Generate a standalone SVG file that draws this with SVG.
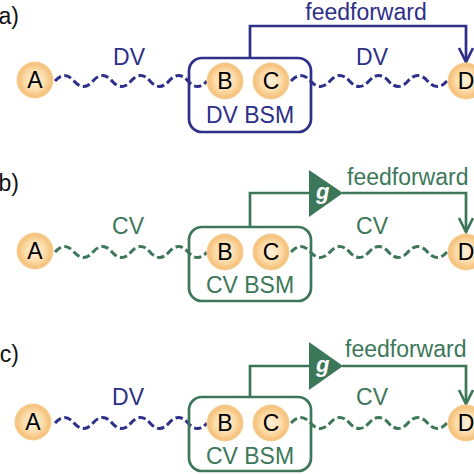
<svg xmlns="http://www.w3.org/2000/svg" xmlns:xlink="http://www.w3.org/1999/xlink" width="474" height="474" viewBox="0 0 474 474">
<style>
text{font-family:"Liberation Sans",Arial,sans-serif;}
.lbl{font-size:23px;fill:#111;}
.node{font-size:23px;fill:#000;text-anchor:middle;}
.navy{fill:#2d2f88;}
.green{fill:#3d775a;}
.wn{fill:none;stroke:#2d2f88;stroke-width:3;stroke-dasharray:7.5 3.5;}
.wg{fill:none;stroke:#3d775a;stroke-width:3;stroke-dasharray:7.5 3.5;}
.bn{fill:none;stroke:#2d2f88;stroke-width:2.7;}
.bg{fill:none;stroke:#3d775a;stroke-width:2.7;}
.mid{text-anchor:middle;font-size:23px;}
.g{font-size:22px;font-weight:bold;font-style:italic;fill:#fff;}
</style>
<defs>
<radialGradient id="orb" cx="0.5" cy="0.5" r="0.5">
<stop offset="0" stop-color="#fff2dc"/>
<stop offset="0.55" stop-color="#fcdcaa"/>
<stop offset="0.88" stop-color="#f5c27c"/>
<stop offset="1" stop-color="#f7cf96"/>
</radialGradient>
<marker id="arrN" markerUnits="userSpaceOnUse" markerWidth="20" markerHeight="20" viewBox="-16 -10 20 20" refX="0" refY="0" orient="auto">
<path d="M-14,-7 L0,0 L-14,7" fill="none" stroke="#2d2f88" stroke-width="2.7"/>
</marker>
<marker id="arrG" markerUnits="userSpaceOnUse" markerWidth="20" markerHeight="20" viewBox="-16 -10 20 20" refX="0" refY="0" orient="auto">
<path d="M-14,-7 L0,0 L-14,7" fill="none" stroke="#3d775a" stroke-width="2.7"/>
</marker>
<path id="waveL" d="M55,0 q9.5,-11 19,0 t19,0 t19,0 t19,0 t19,0 t19,0 t19,0 t19,0"/>
<path id="waveR" d="M291,0 q9.75,-11 19.5,0 t19.5,0 t19.5,0 t19.5,0 t19.5,0 t19.5,0 t19.5,0 t19.5,0"/>
</defs>
<rect width="474" height="474" fill="#fff"/>

<!-- Panel labels -->
<text class="lbl" x="19" y="24" text-anchor="end">a)</text>
<text class="lbl" x="19" y="191" text-anchor="end">b)</text>
<text class="lbl" x="19" y="362" text-anchor="end">c)</text>

<!-- Connectors -->
<g id="connectors">
<!-- panel a -->
<use xlink:href="#waveL" href="#waveL" class="wn" transform="translate(0,81)"/>
<use xlink:href="#waveR" href="#waveR" class="wn" transform="translate(0,81)"/>
<path class="bn" d="M250,58 V26 H466 V62" marker-end="url(#arrN)"/>
<!-- panel b -->
<use xlink:href="#waveL" href="#waveL" class="wg" transform="translate(0,252)"/>
<use xlink:href="#waveR" href="#waveR" class="wg" transform="translate(0,252)"/>
<path class="bg" d="M250,227 V193 H310"/>
<path class="bg" d="M342,193 H466 V232" marker-end="url(#arrG)"/>
<!-- panel c -->
<use xlink:href="#waveL" href="#waveL" class="wn" transform="translate(0,423)"/>
<use xlink:href="#waveR" href="#waveR" class="wg" transform="translate(0,423)"/>
<path class="bg" d="M250,397 V366 H310"/>
<path class="bg" d="M342,366 H466 V404" marker-end="url(#arrG)"/>
</g>

<!-- Panel a -->
<g id="panel-a">
<g id="a-bsm"><rect class="bn" x="189" y="58" width="122" height="74" rx="13"/><text class="mid navy" x="250" y="123">DV BSM</text></g>
<text class="mid navy" x="129" y="65">DV</text>
<text class="mid navy" x="372" y="65">DV</text>
<text class="mid navy" x="366" y="20">feedforward</text>
<g id="a-A"><circle cx="35" cy="80" r="18.5" fill="url(#orb)"/><text class="node" x="35" y="88">A</text></g>
<g id="a-B"><circle cx="225" cy="81" r="18.5" fill="url(#orb)"/><text class="node" x="225" y="89">B</text></g>
<g id="a-C"><circle cx="271" cy="81" r="18.5" fill="url(#orb)"/><text class="node" x="271" y="89">C</text></g>
<g id="a-D"><circle cx="466" cy="81" r="18.5" fill="url(#orb)"/><text class="node" x="466" y="89">D</text></g>
</g>

<!-- Panel b -->
<g id="panel-b">
<g id="b-bsm"><rect class="bg" x="189" y="227" width="122" height="74" rx="13"/><text class="mid green" x="250" y="293">CV BSM</text></g>
<text class="mid green" x="128" y="234">CV</text>
<text class="mid green" x="372" y="234">CV</text>
<text class="green" x="347" y="185" font-size="23">feedforward</text>
<g id="b-gain"><polygon points="309,170 343,193 309,217" fill="#3d775a"/><text class="g" x="316" y="199">g</text></g>
<g id="b-A"><circle cx="35" cy="251" r="18.5" fill="url(#orb)"/><text class="node" x="35" y="259">A</text></g>
<g id="b-B"><circle cx="225" cy="252" r="18.5" fill="url(#orb)"/><text class="node" x="225" y="260">B</text></g>
<g id="b-C"><circle cx="271" cy="252" r="18.5" fill="url(#orb)"/><text class="node" x="271" y="260">C</text></g>
<g id="b-D"><circle cx="466" cy="252" r="18.5" fill="url(#orb)"/><text class="node" x="466" y="260">D</text></g>
</g>

<!-- Panel c -->
<g id="panel-c">
<g id="c-bsm"><rect class="bg" x="189" y="397" width="122" height="74" rx="13"/><text class="mid green" x="250" y="464">CV BSM</text></g>
<text class="mid navy" x="128" y="405">DV</text>
<text class="mid green" x="372" y="405">CV</text>
<text class="green" x="345" y="357" font-size="23">feedforward</text>
<g id="c-gain"><polygon points="309,342 343,366 309,390" fill="#3d775a"/><text class="g" x="316" y="372">g</text></g>
<g id="c-A"><circle cx="33" cy="422" r="18.5" fill="url(#orb)"/><text class="node" x="33" y="430">A</text></g>
<g id="c-B"><circle cx="225" cy="423" r="18.5" fill="url(#orb)"/><text class="node" x="225" y="431">B</text></g>
<g id="c-C"><circle cx="271" cy="423" r="18.5" fill="url(#orb)"/><text class="node" x="271" y="431">C</text></g>
<g id="c-D"><circle cx="466" cy="423" r="18.5" fill="url(#orb)"/><text class="node" x="466" y="431">D</text></g>
</g>
</svg>
